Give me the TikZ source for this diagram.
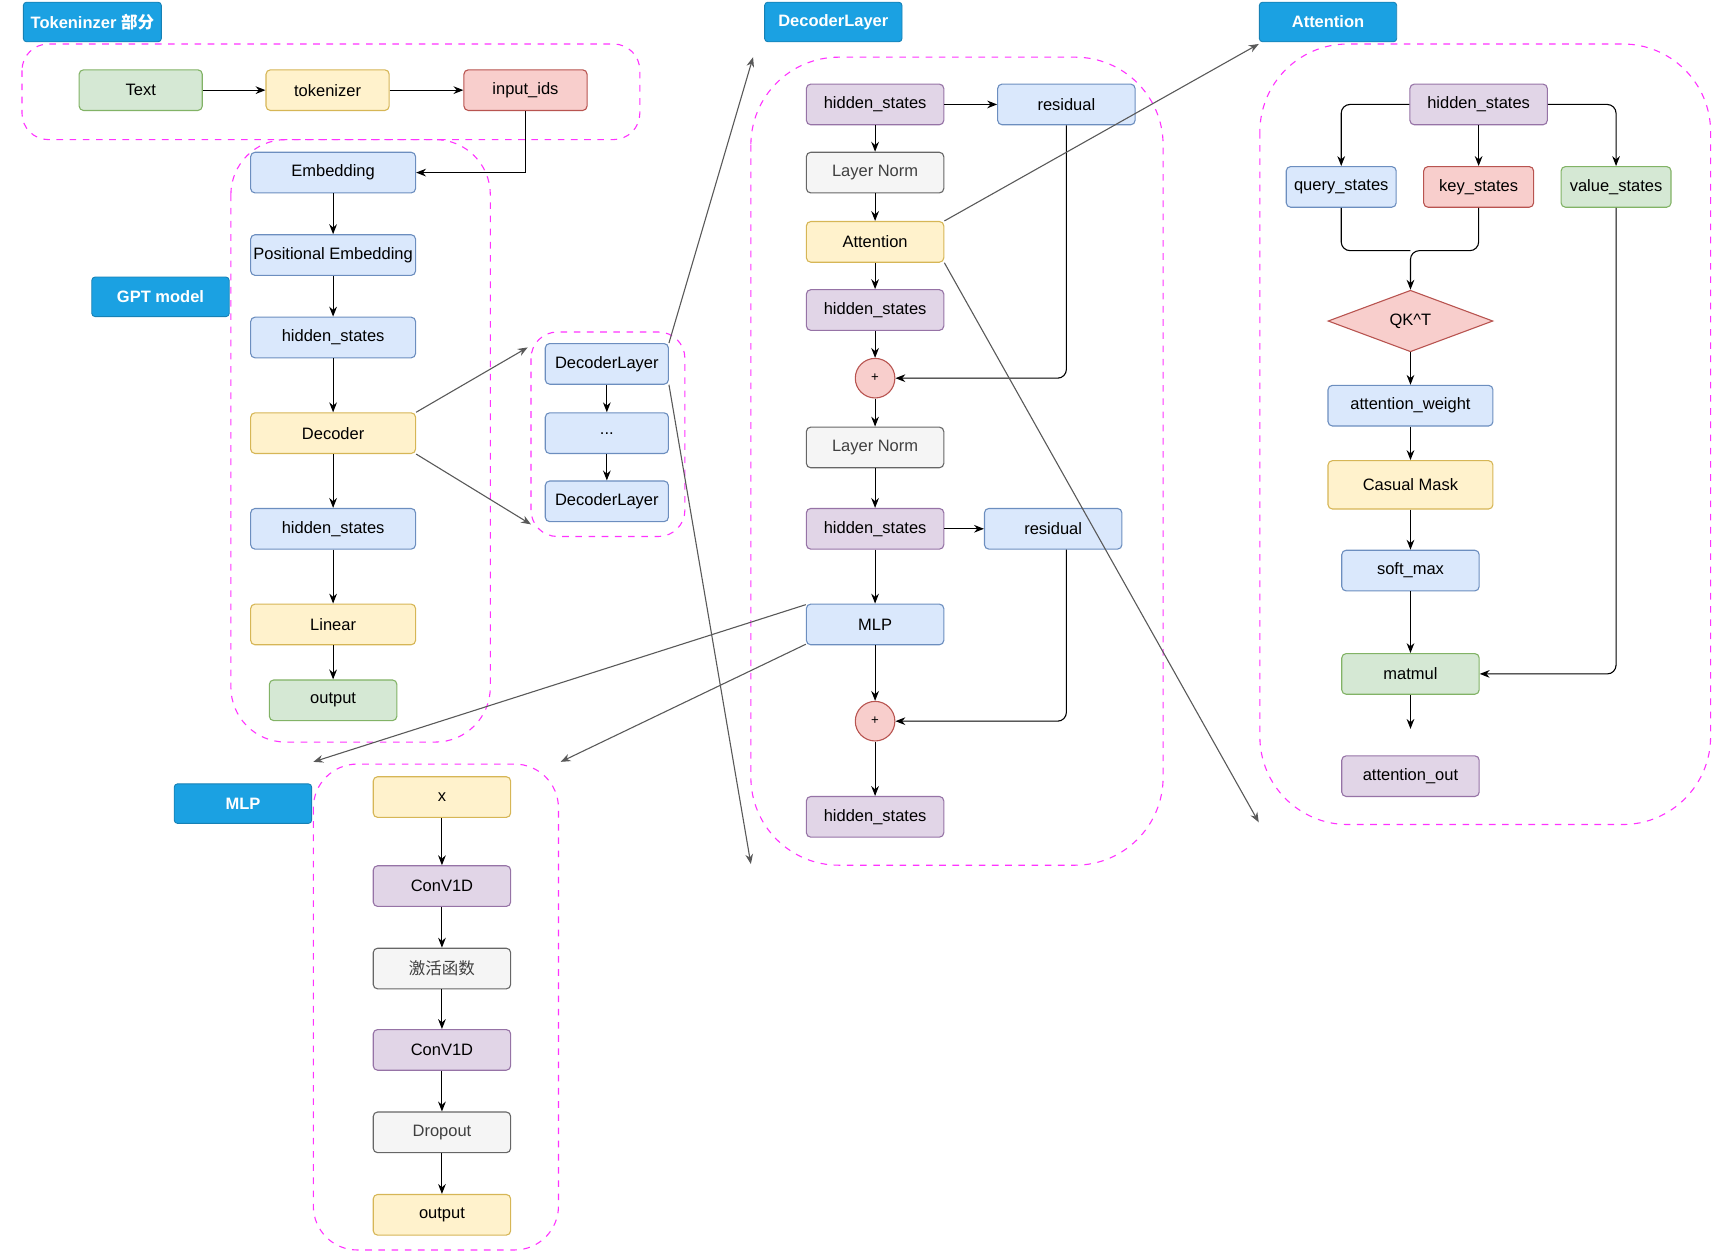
\documentclass[tikz,border=0pt]{standalone}
\usepackage{fontspec}
\setmainfont{Liberation Sans}
\newfontfamily\cjk{Noto Sans CJK SC}
\usetikzlibrary{shapes.geometric,arrows.meta}
\definecolor{bF}{HTML}{DAE8FC}\definecolor{bS}{HTML}{6C8EBF}
\definecolor{gF}{HTML}{D5E8D4}\definecolor{gS}{HTML}{82B366}
\definecolor{yF}{HTML}{FFF2CC}\definecolor{yS}{HTML}{D6B656}
\definecolor{rF}{HTML}{F8CECC}\definecolor{rS}{HTML}{B85450}
\definecolor{pF}{HTML}{E1D5E7}\definecolor{pS}{HTML}{9673A6}
\definecolor{kF}{HTML}{F5F5F5}\definecolor{kS}{HTML}{666666}
\definecolor{tB}{HTML}{1BA1E2}\definecolor{mg}{HTML}{FF33FF}
\tikzset{
 base/.style={rectangle,rounded corners=2pt,line width=0.5pt,minimum height=18.5pt,minimum width=62.5pt,inner sep=1pt,font=\fontsize{7.5}{9}\selectfont},
 bl/.style={base,fill=bF,draw=bS}, gr/.style={base,fill=gF,draw=gS},
 ye/.style={base,fill=yF,draw=yS}, re/.style={base,fill=rF,draw=rS},
 pu/.style={base,fill=pF,draw=pS}, gy/.style={base,fill=kF,draw=kS,text=black!75},
 w/.style={minimum width=#1*0.5pt},
 title/.style={rectangle,rounded corners=1.5pt,fill=tB,draw=tB!80!black,text=white,font=\bfseries\fontsize{7.5}{9}\selectfont,minimum width=62.5pt,minimum height=18pt},
 grp/.style={draw=mg,dashed,line width=0.5pt,rounded corners=#1},
 ar/.style={-{Stealth[length=4.5pt,width=3.5pt]},line width=0.5pt},
 ln/.style={ar,draw=black!65},
 pl/.style={circle,fill=rF,draw=rS,line width=0.5pt,minimum size=18pt,inner sep=0pt,font=\fontsize{6}{7}\selectfont},
}
\begin{document}
\begin{tikzpicture}[x=0.5pt,y=-0.5pt]
\useasboundingbox (0,0) rectangle (1560,1146);
% groups
\draw[grp=12pt] (20,40) rectangle (582,127);
\draw[grp=25pt] (210,127) rectangle (446,675);
\draw[grp=12pt] (483,302) rectangle (623,488);
\draw[grp=40pt] (683,52) rectangle (1058,787);
\draw[grp=40pt] (1146,40) rectangle (1556,750);
\draw[grp=20pt] (285,695) rectangle (508,1137);
% titles
\node[title] (t1) at (84,20) {Tokeninzer {\cjk 部分}};
\node[title] (t2) at (146,270) {GPT model};
\node[title] (t3) at (758,20) {DecoderLayer};
\node[title] (t4) at (1208,20) {Attention};
\node[title] (t5) at (221,731) {MLP};
% tokenizer
\node[gr,w=112] (text) at (128,82) {Text};
\node[ye,w=112] (tok) at (298,82) {tokenizer};
\node[re,w=112] (ids) at (478,82) {input\_ids};
\draw[ar] (text) -- (tok); \draw[ar] (tok) -- (ids);
% GPT
\node[bl,w=150] (emb) at (303,157) {Embedding};
\node[bl,w=150] (pos) at (303,232) {Positional Embedding};
\node[bl,w=150] (g1) at (303,307) {hidden\_states};
\node[ye,w=150] (dec) at (303,394) {Decoder};
\node[bl,w=150] (g2) at (303,481) {hidden\_states};
\node[ye,w=150] (lin) at (303,568) {Linear};
\node[gr,w=116] (gout) at (303,637) {output};
\draw[ar] (ids.south) |- (emb.east);
\draw[ar] (emb)--(pos); \draw[ar] (pos)--(g1); \draw[ar] (g1)--(dec);
\draw[ar] (dec)--(g2); \draw[ar] (g2)--(lin); \draw[ar] (lin)--(gout);
\node[bl,w=112] (dl1) at (552,331) {DecoderLayer};
\node[bl,w=112] (dots) at (552,394) {...};
\node[bl,w=112] (dl2) at (552,456) {DecoderLayer};
\draw[ar] (dl1)--(dots); \draw[ar] (dots)--(dl2);
\coordinate (c1) at (480,316); \coordinate (c2) at (483,477);
\draw[ln] (dec.north east) -- (c1);
\draw[ln] (dec.south east) -- (c2);
\coordinate (c3) at (685,52); \coordinate (c4) at (683,786);
\draw[ln] (dl1.north east) -- (c3);
\draw[ln] (dl1.south east) -- (c4);
% DecoderLayer
\node[pu] (h1) at (796,95) {hidden\_states};
\node[bl] (r1) at (970,95) {residual};
\node[gy] (ln1) at (796,157) {Layer Norm};
\node[ye] (att) at (796,220) {Attention};
\node[pu] (h2) at (796,282) {hidden\_states};
\node[pl] (p1) at (796,344) {+};
\node[gy] (ln2) at (796,407) {Layer Norm};
\node[pu] (h3) at (796,481) {hidden\_states};
\node[bl] (r2) at (958,481) {residual};
\node[bl] (mlp) at (796,568) {MLP};
\node[pl] (p2) at (796,656) {+};
\node[pu] (h4) at (796,743) {hidden\_states};
\draw[ar] (h1)--(r1); \draw[ar] (h1)--(ln1); \draw[ar] (ln1)--(att); \draw[ar] (att)--(h2);
\draw[ar] (h2)--(p1); \draw[ar] (p1)--(ln2); \draw[ar] (ln2)--(h3); \draw[ar] (h3)--(r2);
\draw[ar] (h3)--(mlp); \draw[ar] (mlp)--(p2); \draw[ar] (p2)--(h4);
\draw[ar,rounded corners=4pt] (r1.south) |- (p1.east);
\draw[ar,rounded corners=4pt] (r2.south -| 970,0) |- (p2.east);
\coordinate (c5) at (1145,40); \coordinate (c6) at (1145,748);
\draw[ln] (att.north east) -- (c5);
\draw[ln] (att.south east) -- (c6);
\coordinate (c7) at (285,693); \coordinate (c8) at (510,693);
\draw[ln] ([yshift=9pt]mlp.west) -- (c7);
\draw[ln] ([yshift=-9pt]mlp.west) -- (c8);
% Attention
\node[pu] (ah) at (1345,95) {hidden\_states};
\node[bl,w=100] (q) at (1220,170) {query\_states};
\node[re,w=100] (k) at (1345,170) {key\_states};
\node[gr,w=100] (v) at (1470,170) {value\_states};
\node[diamond,aspect=2.7,fill=rF,draw=rS,line width=0.5pt,inner sep=0pt,minimum width=75pt,minimum height=28pt,font=\fontsize{7.5}{9}\selectfont] (qk) at (1283,292) {QK\textasciicircum T};
\node[bl,w=150] (aw) at (1283,369) {attention\_weight};
\node[ye,w=150,minimum height=22pt] (cm) at (1283,441) {Casual Mask};
\node[bl] (sm) at (1283,519) {soft\_max};
\node[gr] (mm) at (1283,613) {matmul};
\node[pu] (ao) at (1283,706) {attention\_out};
\draw[ar,rounded corners=4pt] (ah.west) -| (q.north);
\draw[ar] (ah)--(k);
\draw[ar,rounded corners=4pt] (ah.east) -| (v.north);
\draw[rounded corners=4pt,line width=0.5pt] (q.south) |- (1283,228);
\draw[ar,rounded corners=4pt] (k.south) |- (1283,228) -- (qk.north);
\draw[ar] (qk)--(aw); \draw[ar] (aw)--(cm); \draw[ar] (cm)--(sm); \draw[ar] (sm)--(mm);
\draw[ar,shorten >=12pt] (mm)--(ao);
\draw[ar,rounded corners=4pt] (v.south) |- (mm.east);
% MLP
\node[ye] (x) at (402,725) {x};
\node[pu] (cv1) at (402,806) {ConV1D};
\node[gy] (act) at (402,881) {\cjk 激活函数};
\node[pu] (cv2) at (402,955) {ConV1D};
\node[gy] (drop) at (402,1030) {Dropout};
\node[ye] (mout) at (402,1105) {output};
\draw[ar] (x)--(cv1); \draw[ar] (cv1)--(act); \draw[ar] (act)--(cv2); \draw[ar] (cv2)--(drop); \draw[ar] (drop)--(mout);
\end{tikzpicture}
\end{document}
